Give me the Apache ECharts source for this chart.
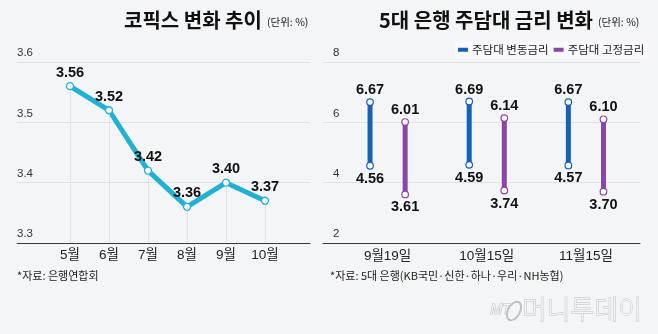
<!DOCTYPE html>
<html>
<head>
<meta charset="utf-8">
<script src="https://cdn.jsdelivr.net/npm/echarts@6/dist/echarts.min.js"></script>
<style>
  html, body { margin: 0; padding: 0; background: #f4f5f7; }
  #chart { width: 658px; height: 334px; }
</style>
</head>
<body>
<div id="chart"></div>
<script>
// 코픽스 월별 추이 (%)
const months = ['5월', '6월', '7월', '8월', '9월', '10월'];
const kofix = [3.56, 3.52, 3.42, 3.36, 3.40, 3.37];
const kofixTicks = [3.3, 3.4, 3.5, 3.6];

// 5대 은행 주담대 금리 범위 (%)
const dates = ['9월19일', '10월15일', '11월15일'];
const varLow = [4.56, 4.59, 4.57];
const varHigh = [6.67, 6.69, 6.67];
const fixLow = [3.61, 3.74, 3.70];
const fixHigh = [6.01, 6.14, 6.10];
const rateTicks = [2, 4, 6, 8];

const FONT = '"Liberation Sans", Arial, "Noto Sans CJK KR", sans-serif';
const KFONT = '"Noto Sans CJK KR", sans-serif';
const BG = '#f4f5f7';
const CYAN = '#22b0d4';
const BLUE = '#1661b8';
const PURPLE = '#8b45a8';
const MARK = '#bfc1c4';

const chart = echarts.init(document.getElementById('chart'), null, { renderer: 'canvas' });

// draws one vertical range bar with end markers and value labels
function rangeItem(color, side) {
  return function (params, api) {
    const i = api.value(0);
    const lo = api.coord([i, api.value(1)]);
    const hi = api.coord([i, api.value(2)]);
    const dx = api.size([1, 0])[0] * 0.177 * side;
    const x = lo[0] + dx;
    const labelFont = 'bold 14.5px ' + FONT;
    return {
      type: 'group',
      children: [
        { type: 'line', shape: { x1: x, y1: lo[1], x2: x, y2: hi[1] },
          style: { stroke: color, lineWidth: 5 } },
        { type: 'circle', shape: { cx: x, cy: hi[1], r: 3.3 },
          style: { fill: '#fff', stroke: color, lineWidth: 1.2 } },
        { type: 'circle', shape: { cx: x, cy: lo[1], r: 3.3 },
          style: { fill: '#fff', stroke: color, lineWidth: 1.2 } },
        { type: 'text', x: x, y: hi[1] - 12,
          style: { text: api.value(2).toFixed(2), font: labelFont, fill: '#111',
                   align: 'center', verticalAlign: 'middle' } },
        { type: 'text', x: x, y: lo[1] + 13,
          style: { text: api.value(1).toFixed(2), font: labelFont, fill: '#111',
                   align: 'center', verticalAlign: 'middle' } }
      ]
    };
  };
}

const gridTop = 62, gridBottom = 91;

const option = {
  backgroundColor: BG,
  animation: false,
  textStyle: { fontFamily: FONT },
  grid: [
    { left: 17, right: 348, top: gridTop, bottom: gridBottom },
    { left: 50.5, right: 373.5, top: gridTop, bottom: gridBottom },
    { left: 323, right: 18, top: gridTop, bottom: gridBottom },
    { left: 338, right: 22.5, top: gridTop, bottom: gridBottom }
  ],
  xAxis: [
    { gridIndex: 0, type: 'value', min: 0, max: 1,
      axisLine: { show: true, lineStyle: { color: '#3a3a3a', width: 1 } },
      axisTick: { show: false }, axisLabel: { show: false }, splitLine: { show: false } },
    { gridIndex: 1, type: 'category', data: months, boundaryGap: true,
      axisLine: { show: false }, axisTick: { show: false },
      axisLabel: { margin: 6, fontSize: 13.5, color: '#222', fontFamily: FONT } },
    { gridIndex: 2, type: 'value', min: 0, max: 1,
      axisLine: { show: true, lineStyle: { color: '#3a3a3a', width: 1 } },
      axisTick: { show: false }, axisLabel: { show: false }, splitLine: { show: false } },
    { gridIndex: 3, type: 'category', data: dates, boundaryGap: true,
      axisLine: { show: false }, axisTick: { show: false },
      axisLabel: { margin: 7, fontSize: 13.5, color: '#222', fontFamily: FONT } }
  ],
  yAxis: [
    { gridIndex: 0, type: 'value', min: kofixTicks[0], max: kofixTicks[kofixTicks.length - 1], interval: 0.1,
      axisLine: { show: false }, axisTick: { show: false },
      splitLine: { lineStyle: { color: '#e1e2e5', width: 1 } },
      axisLabel: { inside: true, margin: 0, verticalAlign: 'bottom', padding: [0, 0, 3, 0],
                   fontSize: 11.5, color: '#333', formatter: v => v.toFixed(1) } },
    { gridIndex: 1, type: 'value', min: kofixTicks[0], max: kofixTicks[kofixTicks.length - 1], show: false },
    { gridIndex: 2, type: 'value', min: rateTicks[0], max: rateTicks[rateTicks.length - 1], interval: 2,
      axisLine: { show: false }, axisTick: { show: false },
      splitLine: { lineStyle: { color: '#e1e2e5', width: 1 } },
      axisLabel: { inside: true, margin: 10, verticalAlign: 'bottom', padding: [0, 0, 3, 0],
                   fontSize: 11.5, color: '#333' } },
    { gridIndex: 3, type: 'value', min: rateTicks[0], max: rateTicks[rateTicks.length - 1], show: false }
  ],
  legend: {
    left: 455, top: 41,
    icon: 'rect', itemWidth: 10, itemHeight: 4, itemGap: 5,
    backgroundColor: 'rgba(255,255,255,0.45)', padding: [3, 3],
    textStyle: { fontSize: 11.5, color: '#1a1a1a', fontFamily: KFONT, padding: [0, 0, 0, -1] },
    data: ['주담대 변동금리', '주담대 고정금리'],
    selectedMode: false
  },
  series: [
    {
      type: 'line', xAxisIndex: 1, yAxisIndex: 1,
      data: kofix,
      lineStyle: { color: CYAN, width: 5 },
      symbol: 'circle', symbolSize: 7,
      itemStyle: { color: '#fff', borderColor: CYAN, borderWidth: 1.3 },
      label: { show: true, position: 'top', distance: 2,
               fontSize: 14.5, fontWeight: 'bold', color: '#111', fontFamily: FONT,
               formatter: p => p.value.toFixed(2) },
      markLine: {
        silent: true, symbol: ['none', 'none'], label: { show: false },
        lineStyle: { type: 'dotted', color: '#cfd1d4', width: 1 },
        data: kofix.map((v, i) => [
          { coord: [months[i], v] },
          { coord: [months[i], kofixTicks[0]] }
        ])
      },
      z: 3
    },
    {
      name: '주담대 변동금리', type: 'custom', xAxisIndex: 3, yAxisIndex: 3,
      itemStyle: { color: BLUE },
      data: dates.map((d, i) => [i, varLow[i], varHigh[i]]),
      encode: { x: 0, y: [1, 2] },
      renderItem: rangeItem(BLUE, -1)
    },
    {
      name: '주담대 고정금리', type: 'custom', xAxisIndex: 3, yAxisIndex: 3,
      itemStyle: { color: PURPLE },
      data: dates.map((d, i) => [i, fixLow[i], fixHigh[i]]),
      encode: { x: 0, y: [1, 2] },
      renderItem: rangeItem(PURPLE, 1)
    }
  ],
  graphic: [
    { type: 'text', left: 124, top: 10,
      style: { text: '코픽스 변화 추이', font: 'bold 20px ' + KFONT, fill: '#111' } },
    { type: 'text', left: 267, top: 17,
      style: { text: '(단위: %)', font: '10.5px ' + KFONT, fill: '#222' } },
    { type: 'text', left: 379, top: 10,
      style: { text: '5대 은행 주담대 금리 변화', font: 'bold 20px ' + KFONT, fill: '#111' } },
    { type: 'text', left: 598, top: 17,
      style: { text: '(단위: %)', font: '10.5px ' + KFONT, fill: '#222' } },
    { type: 'text', left: 17, top: 270,
      style: { text: '*자료: 은행연합회', font: '11px ' + KFONT, fill: '#222' } },
    { type: 'text', left: 330, top: 270,
      style: { text: '*자료: 5대 은행(KB국민·신한·하나·우리·NH농협)', font: '11px ' + KFONT, fill: '#222' } },
    // 머니투데이 워터마크
    { type: 'text', left: 490, top: 303,
      style: { text: 'MT', font: 'italic 14px ' + FONT, fill: BG, stroke: MARK, lineWidth: 1.2 } },
    { type: 'ellipse', shape: { cx: 514, cy: 311, rx: 6, ry: 10 }, rotation: -0.5,
      originX: 514, originY: 311,
      style: { fill: 'none', stroke: MARK, lineWidth: 2 } },
    { type: 'text', left: 522, top: 296,
      style: { text: '머니투데이', font: '300 26px ' + KFONT, fill: BG, stroke: MARK, lineWidth: 1 } }
  ]
};

chart.setOption(option);
</script>
</body>
</html>
